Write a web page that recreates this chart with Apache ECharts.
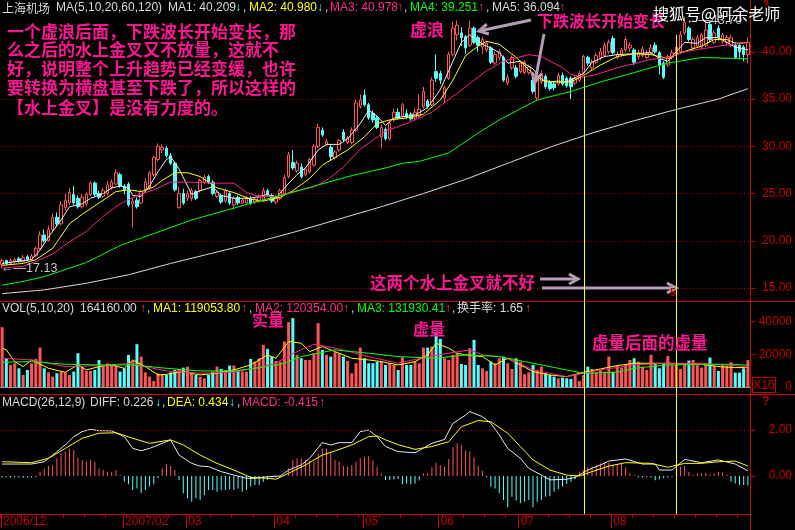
<!DOCTYPE html>
<html><head><meta charset="utf-8">
<script src="https://cdn.jsdelivr.net/npm/echarts@6/dist/echarts.min.js"></script>
<style>html,body{margin:0;padding:0;background:#000;}#c{width:795px;height:530px;}</style>
</head><body><div id="c"></div>
<script>
// ---------- DATA ----------
// [open, close, low, high]
const candles = [
[17.5,17.9,17.13,18.1],[17.9,17.6,17.4,18.0],[17.6,17.9,17.5,18.1],[17.8,18.0,17.6,18.2],[18.1,17.8,17.7,18.3],
[17.8,18.2,17.7,18.5],[18.3,18.0,17.9,18.5],[18.0,18.4,17.9,18.6],[18.4,19.2,18.3,19.4],[19.2,20.6,19.0,21.0],
[20.6,20.0,19.8,21.2],[20.0,21.2,19.9,21.6],[21.2,22.5,20.9,22.9],[22.5,21.8,21.5,23.0],[21.8,23.8,21.6,24.2],
[23.5,24.3,23.2,25.0],[24.0,25.1,23.8,25.6],[24.9,24.0,23.8,25.8],[24.5,23.6,23.4,24.8],[23.6,24.6,23.4,25.0],
[23.9,24.9,23.7,25.1],[24.9,26.1,24.7,26.3],[26.1,24.9,24.7,26.3],[25.0,24.6,24.4,25.3],[24.7,25.3,24.5,25.6],
[25.0,25.9,24.8,26.3],[25.6,26.2,25.4,26.5],[26.0,27.2,25.9,27.6],[27.0,25.8,25.6,27.2],[25.8,25.4,24.9,26.0],
[26.0,23.8,23.6,26.2],[23.9,24.2,21.4,24.6],[24.3,23.6,23.4,24.6],[24.0,25.2,23.9,25.4],[25.4,26.2,25.2,26.6],
[25.6,27.2,25.4,27.4],[27.0,28.8,26.8,29.0],[28.6,30.0,28.4,30.3],[29.6,29.9,29.3,30.2],[29.8,29.0,28.8,30.0],
[29.0,28.2,28.0,29.3],[28.2,25.4,25.2,28.4],[23.5,25.0,23.4,25.7],[25.0,24.0,23.8,25.5],[24.5,25.0,24.2,25.3],
[24.5,25.3,24.2,25.6],[25.2,24.5,24.3,25.4],[25.3,26.4,25.1,26.6],[26.2,26.7,26.0,27.0],[26.8,26.2,26.0,27.0],
[26.2,25.0,24.8,26.4],[24.7,25.1,24.5,25.3],[24.8,24.1,23.9,25.0],[24.2,25.3,24.0,25.5],[25.0,24.0,23.8,25.2],
[23.8,24.5,23.3,24.7],[24.6,24.0,23.8,24.8],[24.0,24.3,23.9,24.5],[24.0,24.5,23.9,24.7],[24.5,24.0,23.8,24.7],
[24.1,24.4,23.9,24.6],[24.2,24.6,24.0,24.9],[24.3,25.3,24.1,25.6],[25.3,24.9,24.7,25.5],[24.8,24.2,24.0,25.0],
[24.1,24.6,23.9,24.8],[24.5,25.3,24.3,25.5],[25.0,26.7,24.9,27.0],[26.8,29.1,26.6,29.4],[28.3,27.7,27.5,29.6],
[27.4,28.2,27.2,28.5],[27.8,26.8,26.6,28.2],[27.0,27.6,26.8,27.8],[27.3,28.6,27.1,28.8],[28.0,30.0,27.8,30.2],
[30.0,32.0,29.8,32.4],[31.7,31.2,31.0,32.0],[30.2,30.5,30.0,30.8],[29.9,28.9,28.5,30.2],[28.8,29.4,28.6,29.6],
[29.6,30.6,29.4,30.8],[31.5,30.7,30.5,31.8],[30.4,30.9,30.2,31.1],[30.4,31.7,30.2,32.0],[31.7,34.6,31.5,34.9],
[34.2,34.9,34.0,35.5],[35.4,34.4,34.2,36.0],[34.4,33.0,32.8,34.6],[33.5,32.8,32.5,33.8],[33.0,32.0,31.8,33.2],
[31.0,32.0,29.8,32.3],[31.8,30.8,30.6,32.0],[30.8,32.4,30.6,32.8],[32.8,33.6,32.6,34.0],[33.6,33.0,32.8,34.0],
[33.2,34.4,33.0,34.6],[33.5,33.1,32.9,33.9],[33.4,32.9,32.7,33.6],[33.0,33.6,32.8,34.0],[33.2,33.9,33.0,35.5],
[34.2,35.8,34.0,36.3],[34.8,34.2,34.0,35.0],[34.4,37.0,34.2,37.3],[37.9,37.2,36.8,39.7],[37.7,37.0,36.6,38.0],
[35.1,36.2,34.6,36.4],[37.2,39.7,37.0,40.0],[39.7,42.5,39.5,43.2],[41.8,42.8,41.2,43.3],[42.0,41.5,40.6,42.6],
[41.6,40.4,39.8,41.8],[40.7,42.5,40.5,43.3],[42.5,41.0,40.8,42.7],[41.5,40.7,40.0,41.7],[40.5,41.3,39.8,41.6],
[40.2,40.9,40.0,41.2],[40.4,38.9,38.7,40.6],[38.8,39.7,38.6,40.0],[39.4,40.0,39.1,40.3],[39.4,37.0,36.8,39.6],
[36.7,37.3,36.5,37.6],[38.3,39.4,38.1,39.6],[38.3,37.4,37.2,38.6],[37.9,38.8,37.7,39.0],[37.8,38.9,37.6,39.1],
[37.8,38.4,37.6,38.6],[37.0,35.8,35.6,37.2],[35.1,37.4,34.9,37.6],[36.8,37.7,36.6,38.0],[37.4,36.3,36.1,37.6],
[36.8,36.1,35.9,37.0],[36.6,36.2,35.9,36.8],[36.6,37.5,36.4,37.8],[37.5,36.6,36.4,37.8],[37.2,36.4,36.2,37.4],
[37.2,36.3,35.0,37.4],[36.7,37.2,36.5,37.4],[37.0,37.7,36.8,38.0],[37.8,39.5,37.6,39.7],[39.4,38.8,38.5,39.6],
[38.3,38.9,38.1,39.2],[38.9,39.6,38.7,39.9],[39.4,40.0,39.1,40.4],[39.6,40.7,39.4,41.0],[40.0,41.0,39.8,41.3],
[41.4,39.9,39.7,41.7],[39.4,39.7,39.2,40.0],[39.7,40.2,39.5,40.4],[40.2,41.3,40.0,41.6],[40.4,40.7,40.0,41.0],
[40.2,38.9,38.6,40.4],[39.5,39.9,39.2,40.2],[39.6,40.3,39.4,40.6],[39.4,39.9,39.2,40.2],[39.9,40.4,39.7,40.8],
[40.7,40.0,39.8,41.0],[39.9,38.6,37.6,40.1],[38.8,37.3,37.1,39.0],[38.6,39.5,38.4,39.7],[39.4,39.9,39.2,40.2],
[39.8,40.5,39.6,40.8],[40.0,41.8,39.8,42.2],[42.0,43.1,41.8,43.7],[42.5,41.3,41.1,42.7],[40.4,41.3,40.2,41.6],
[40.6,41.5,40.4,41.8],[40.5,41.8,40.3,42.0],[40.7,42.3,40.5,43.3],[42.9,41.3,41.0,43.2],[41.0,42.0,40.8,42.3],
[42.5,41.5,41.2,42.8],[41.1,41.8,40.9,42.0],[41.0,41.5,40.6,41.8],[40.7,41.5,40.5,41.8],[40.7,39.4,39.2,41.0],
[40.7,40.0,39.2,40.9],[40.5,39.7,39.0,40.7],[39.7,41.0,38.8,41.5]
];
// moving-average lines, sampled [candle index, value]
const ma5Pts = [[0,17.6],[7,18.0],[9,19.0],[11,20.4],[14,22.2],[16,23.6],[19,23.9],[21,24.5],[24,25.0],[26,25.6],[28,25.8],[30,25.6],[31,24.8],[33,24.7],[35,25.8],[37,27.3],[39,28.6],[40,28.9],[42,27.6],[44,25.8],[45,24.9],[47,25.3],[50,25.7],[52,24.8],[55,24.5],[59,24.5],[63,24.9],[65,24.5],[67,25.6],[70,27.0],[72,27.7],[75,29.6],[77,30.2],[80,30.2],[82,30.8],[85,32.4],[87,33.8],[89,33.2],[91,32.2],[93,33.0],[98,33.3],[101,34.1],[104,36.0],[106,38.0],[109,41.0],[111,41.8],[114,40.8],[116,40.4],[118,39.9],[120,38.8],[123,39.0],[126,38.2],[127,37.6],[129,36.8],[132,36.9],[134,36.8],[138,37.7],[140,38.9],[143,39.5],[146,39.7],[150,39.8],[154,39.9],[156,39.3],[158,39.0],[160,40.0],[162,41.0],[165,40.9],[167,41.5],[170,41.5],[172,41.0],[174,40.5],[177,40.209]];
const ma10Pts = [[0,17.4],[5,17.6],[8,18.0],[12,19.2],[14,20.5],[16,21.8],[19,22.8],[23,24.0],[27,25.2],[30,25.4],[33,25.2],[36,25.7],[38,26.4],[41,27.2],[44,27.2],[47,26.8],[51,25.6],[55,25.1],[59,24.4],[62,24.2],[66,24.6],[69,25.3],[73,26.6],[76,28.0],[79,28.8],[82,29.6],[86,31.0],[89,32.4],[92,32.8],[96,33.0],[100,33.4],[104,34.9],[107,37.0],[110,39.6],[113,40.6],[115,41.1],[118,40.8],[122,39.4],[125,38.1],[128,37.0],[131,36.8],[135,36.8],[138,37.5],[142,38.6],[146,39.5],[150,39.8],[154,39.7],[158,39.3],[161,39.9],[166,40.6],[169,41.3],[172,41.3],[174,40.9],[177,40.98]];
const ma20Pts = [[0,17.1],[5,17.3],[8,17.8],[12,18.6],[16,19.9],[20,21.0],[24,22.6],[28,23.9],[32,24.8],[36,25.4],[40,26.2],[45,26.2],[50,26.1],[55,26.1],[58,25.1],[61,24.7],[65,24.7],[70,25.3],[74,25.7],[77,26.4],[81,27.8],[85,29.7],[91,31.6],[96,32.4],[102,33.6],[110,36.3],[115,38.0],[119,39.0],[125,39.7],[128,39.5],[133,38.3],[135,37.6],[138,37.3],[141,37.6],[146,38.3],[154,39.2],[158,39.4],[162,40.0],[170,40.6],[177,40.978]];
const ma60Pts = [[0,15.3],[5,15.7],[10,16.2],[20,17.7],[28,19.5],[35,20.6],[45,22.2],[53,23.2],[60,24.1],[68,25.0],[75,25.9],[83,26.9],[91,27.7],[95,28.2],[99,28.4],[106,29.3],[113,31.4],[118,32.8],[127,34.9],[135,35.8],[142,36.8],[150,37.8],[158,38.8],[166,39.4],[177,39.251]];
const ma120Pts = [[0,14.4],[10,14.8],[20,15.5],[30,16.4],[40,17.6],[50,18.7],[60,19.8],[70,21.0],[80,22.3],[90,23.6],[100,25.0],[110,26.5],[120,28.2],[130,29.9],[140,31.4],[150,32.7],[160,33.9],[170,35.0],[177,36.094]];
// volume (axis units, x10 shares)
const volumes = [
36490,17530,13460,14470,11420,7340,10400,14470,17120,24050,
11420,8970,6320,8360,9380,8970,7340,9380,20590,12430,
9790,9790,10400,16510,12430,14470,13460,13050,9380,11420,
19570,15900,26090,18550,8970,6320,3670,8360,7340,7340,
8970,10400,11010,11820,12430,8970,7340,6320,5300,7340,
9380,12430,11010,10400,13050,13050,10400,9380,9380,17120,
15490,17530,25690,23240,18550,15900,15490,27720,39550,42000,
19570,17530,16510,16510,20590,38940,22630,19570,18550,21200,
20590,18550,15900,8360,14470,24050,17530,14470,14470,15490,
15900,13460,14470,13460,10400,
18140,13460,13460,15490,14470,24050,24050,24670,33430,29360,
17530,16510,19570,20590,14070,13460,23650,28750,13460,11420,
9790,15490,14470,17530,18550,14470,11010,17530,15490,7750,
8970,13460,10400,12430,8360,7340,6320,5300,5710,5300,
4890,7750,3670,7340,12430,11010,8970,10400,9380,18550,
9380,13050,11820,13460,16510,17530,15490,12430,10400,19570,
14470,11420,14470,18960,13460,13460,11010,14470,16110,16510,
14470,11820,13460,17940,13050,9790,13460,13050,15090,8770,
8770,11420,16416];
const volMa5Pts = [[0,23650],[1,22630],[3,15490],[5,12430],[7,16510],[11,11420],[15,8970],[18,13460],[20,10400],[23,12430],[26,13460],[29,11420],[31,16510],[34,12430],[37,7340],[39,7750],[43,9380],[47,7340],[51,8360],[55,10400],[59,13460],[63,19570],[65,17530],[68,27720],[71,26700],[73,21600],[76,24670],[79,21600],[83,17530],[87,16510],[90,15490],[94,13460],[98,15490],[101,19570],[103,26700],[106,23650],[108,20590],[110,19570],[114,18550],[117,13460],[120,17530],[123,13460],[126,9380],[130,7340],[134,6320],[138,8970],[142,11010],[146,13050],[150,14470],[158,14470],[166,13860],[170,12430],[174,11820],[177,11905]];
const volMa10Pts = [[0,17530],[7,16510],[15,12430],[23,13050],[31,14470],[34,12430],[39,9790],[47,8360],[55,8970],[60,11500],[65,14500],[69,20500],[74,26090],[79,23650],[83,21200],[87,18550],[94,14470],[101,18550],[111,22630],[114,19570],[118,18550],[122,15490],[126,10400],[134,6320],[142,10400],[150,13460],[158,14470],[166,14470],[174,13050],[177,12035]];
const volMa20Pts = [[0,15090],[7,15490],[15,13860],[23,13460],[31,13460],[39,11420],[47,9790],[55,9790],[63,12430],[67,14470],[71,18550],[79,22630],[87,20590],[94,18550],[103,17530],[110,19570],[118,18550],[126,14470],[134,10400],[138,8360],[146,8970],[150,11420],[158,13460],[166,13860],[174,13860],[177,13193]];
// MACD
const macdHist = [
-0.06,-0.05,-0.07,-0.05,-0.06,-0.08,-0.06,-0.05,-0.04,
0.19,0.33,0.43,0.48,0.77,0.99,1.06,1.20,1.13,0.80,0.70,
0.62,0.72,0.62,0.33,0.26,0.19,0.19,0.26,0.04,-0.25,
-0.36,-0.61,-0.54,-0.75,-0.61,-0.46,-0.36,-0.10,0.33,0.52,
0.43,0.26,-0.17,-0.75,-0.97,-1.12,-0.97,-1.04,-0.83,-0.61,
-0.61,-0.68,-0.61,-0.61,-0.58,-0.61,-0.54,-0.68,-0.61,-0.46,
-0.39,-0.39,-0.25,-0.17,-0.06,-0.06,-0.03,0.04,0.33,0.70,
0.77,0.77,0.70,0.67,0.62,0.99,1.20,1.20,1.01,0.70,
0.62,0.43,0.41,0.48,0.62,0.77,0.84,0.87,0.67,0.41,
0.12,-0.17,-0.17,-0.15,-0.13,-0.36,
-0.33,-0.36,-0.33,-0.20,0.12,0.12,0.38,0.58,0.48,0.41,
0.74,1.25,1.42,1.35,1.10,1.06,0.80,0.43,0.23,-0.06,
-0.46,-0.54,-0.75,-1.04,-1.36,-0.90,-1.07,-1.19,-1.12,-1.04,
-1.36,-1.12,-1.04,-0.90,-0.87,-0.68,-0.58,-0.46,-0.35,-0.25,
-0.14,0.19,0.26,0.38,0.41,0.48,0.55,0.62,0.58,0.48,
0.52,0.58,0.38,0.12,0.04,-0.06,-0.06,-0.03,-0.06,-0.19,
-0.14,-0.10,-0.06,-0.03,0.19,0.41,0.43,0.19,0.04,0.12,
0.12,0.14,0.07,0.12,0.19,0.14,0.07,-0.25,-0.33,-0.39,-0.39,-0.415];
const diffPts = [[0,0.52],[7,0.52],[10,0.62],[12,0.91],[15,1.35],[17,1.71],[19,1.93],[21,2.03],[23,1.97],[26,1.96],[29,1.71],[31,1.20],[33,1.10],[35,1.20],[38,1.42],[40,1.57],[42,0.91],[45,0.55],[47,0.43],[49,0.41],[52,0.19],[55,0.04],[58,-0.10],[60,-0.10],[63,-0.03],[66,0.0],[68,0.26],[71,0.48],[73,0.77],[76,1.45],[78,1.35],[80,1.45],[83,1.45],[85,1.93],[87,2.0],[89,1.71],[91,1.28],[94,1.06],[98,1.01],[102,1.42],[105,1.59],[107,2.29],[110,2.65],[111,2.80],[114,2.58],[116,2.29],[118,1.78],[120,1.20],[123,0.77],[125,0.33],[128,0.04],[130,-0.17],[134,-0.14],[136,-0.06],[139,0.26],[142,0.48],[144,0.65],[148,0.74],[152,0.52],[155,0.52],[156,0.26],[159,0.26],[162,0.72],[166,0.58],[170,0.70],[174,0.52],[177,0.226]];
const deaPts = [[0,0.62],[7,0.58],[11,0.77],[15,1.20],[19,1.64],[23,1.86],[27,1.88],[31,1.64],[35,1.42],[40,1.57],[43,1.35],[47,0.91],[51,0.55],[55,0.26],[59,-0.06],[63,-0.10],[65,-0.14],[68,0.12],[72,0.48],[76,0.91],[79,1.09],[83,1.35],[87,1.71],[89,1.74],[91,1.57],[94,1.36],[98,1.16],[102,1.28],[106,1.49],[109,2.14],[113,2.41],[116,2.36],[120,1.86],[123,1.28],[126,0.70],[130,0.26],[134,0.04],[137,0.0],[140,0.19],[144,0.43],[148,0.58],[154,0.55],[158,0.38],[162,0.55],[166,0.55],[170,0.62],[174,0.65],[177,0.434]];
// date axis labels (candle index -> label)
const monthLabels = {0:'2006/12',29:'2007/02',44:'03',65:'04',86:'05',104:'06',123:'07',145:'08'};
const priceTicks = [15,20,25,30,35,40];
const volTicks = [0,20000,40000];
const macdTicks = [0,2];
// annotation anchors
const markerIdx = [138,160];
const markerTop = [37.4,41.8];
const lowMark = [0,17.13];
const highMark = [162,43.7];

// ---------- CHART ----------
const RED='#ff5454', CYAN='#54ffff', AX='#c80000', DOT='#a80000';
const cats = candles.map((_,i)=>String(i));
const chart = echarts.init(document.getElementById('c'));
const lineS = (pts,color,x,y,w)=>({type:'line',xAxisIndex:x,yAxisIndex:y,data:pts,symbol:'none',clip:false,
  lineStyle:{color:color,width:w||1},silent:true,z:3});
const GL=0, GR=45;
const option = {
  backgroundColor:'#000',
  animation:false,
  grid:[
    {left:GL,right:GR,top:14,height:274},
    {left:GL,right:GR,top:305,height:82},
    {left:GL,right:GR,top:394,height:128},
    {left:GL,right:GR,top:514,height:14}
  ],
  xAxis:[
    {gridIndex:0,type:'category',data:cats,boundaryGap:true,axisLine:{show:false,onZero:false},axisTick:{show:false},axisLabel:{show:false},splitLine:{show:false}},
    {gridIndex:1,type:'category',data:cats,boundaryGap:true,axisLine:{show:true,onZero:false,lineStyle:{color:'#9a9a9a'}},axisTick:{show:false},axisLabel:{show:false},splitLine:{show:false}},
    {gridIndex:2,type:'category',data:cats,boundaryGap:true,position:'bottom',offset:-8,
      axisLine:{show:true,onZero:false,lineStyle:{color:AX}},
      axisTick:{show:true,length:4,interval:(i)=>i%5===0,lineStyle:{color:AX}},axisLabel:{show:false},splitLine:{show:false}},
    {gridIndex:3,type:'category',data:cats,boundaryGap:true,position:'bottom',
      axisLine:{show:false,onZero:false},axisTick:{show:false},
      splitLine:{show:true,interval:(i)=>monthLabels[i]!==undefined,lineStyle:{color:AX,width:1}},
      axisLabel:{show:true,inside:true,margin:0,align:'left',color:AX,fontSize:12,fontFamily:'Liberation Sans',
        interval:(i)=>monthLabels[i]!==undefined,formatter:(v,i)=>monthLabels[i]||''}}
  ],
  yAxis:[
    {gridIndex:0,type:'value',position:'right',min:15,max:44,interval:5,
      axisLine:{show:false},axisTick:{show:true,length:5,customValues:priceTicks,lineStyle:{color:AX}},
      axisLabel:{color:AX,fontSize:12,fontFamily:'Liberation Sans',align:'right',margin:42,customValues:priceTicks,formatter:(v)=>v.toFixed(2)},
      splitLine:{show:true,showMaxLine:false,lineStyle:{color:DOT,type:[1,2]}}},
    {gridIndex:1,type:'value',position:'right',min:0,max:50000,interval:20000,
      axisLine:{show:false},axisTick:{show:true,length:5,customValues:[20000,40000],lineStyle:{color:AX}},
      axisLabel:{color:AX,fontSize:12,fontFamily:'Liberation Sans',align:'right',margin:42,customValues:volTicks,formatter:(v)=>String(Math.round(v))},
      splitLine:{show:true,showMinLine:false,showMaxLine:false,lineStyle:{color:DOT,type:[1,2]}}},
    {gridIndex:2,type:'value',position:'right',min:-2,max:3.565,interval:2,
      axisLine:{show:false},axisTick:{show:true,length:5,customValues:macdTicks,lineStyle:{color:AX}},
      axisLabel:{color:AX,fontSize:12,fontFamily:'Liberation Sans',align:'right',margin:42,customValues:macdTicks,formatter:(v)=>v.toFixed(2)},
      splitLine:{show:false}},
    {gridIndex:3,type:'value',show:false,min:0,max:1}
  ],
  series:[
    {type:'candlestick',xAxisIndex:0,yAxisIndex:0,data:candles,barWidth:3,z:2,silent:true,
      itemStyle:{color:'#000',color0:CYAN,borderColor:RED,borderColor0:CYAN,borderWidth:1}},
    lineS(ma5Pts,'#f0f0f0',0,0),
    lineS(ma10Pts,'#ffff00',0,0),
    lineS(ma20Pts,'#ff1e8c',0,0),
    lineS(ma60Pts,'#00ff00',0,0),
    lineS(ma120Pts,'#d8d8d8',0,0),
    {type:'bar',xAxisIndex:1,yAxisIndex:1,data:volumes,barWidth:3,silent:true,
      itemStyle:{color:(p)=>candles[p.dataIndex][1]>=candles[p.dataIndex][0]?RED:CYAN}},
    lineS(volMa5Pts,'#ffff00',1,1),
    lineS(volMa10Pts,'#ff1e8c',1,1),
    lineS(volMa20Pts,'#00ff00',1,1),
    {type:'bar',xAxisIndex:2,yAxisIndex:2,data:macdHist,barWidth:1,silent:true,
      itemStyle:{color:(p)=>p.value>=0?RED:CYAN}},
    Object.assign(lineS(diffPts,'#e8e8e8',2,2),{markLine:{silent:true,symbol:'none',label:{show:false},
      lineStyle:{color:DOT,type:[1,2],width:1},data:[{yAxis:2}]}}),
    lineS(deaPts,'#ffff00',2,2)
  ]
};
chart.setOption(option);

// ---------- overlay texts / annotations ----------
const F = '"Liberation Sans","Noto Sans CJK SC",sans-serif';
const CJK = '"Noto Sans CJK SC",sans-serif';
function T(x,y,s,color,size,fam,weight,align){
  return {type:'text',x:x,y:y,z:100,silent:true,style:{text:s,fill:color,
    font:(weight||'normal')+' '+(size||12)+'px '+(fam||F),
    align:align||'left',textAlign:align||'left',verticalAlign:'middle',textVerticalAlign:'middle'}};
}
function L(x1,y1,x2,y2,c,w){return {type:'line',z:90,silent:true,shape:{x1,y1,x2,y2},style:{stroke:c,lineWidth:w||1}};}
function arrow(x1,y1,x2,y2,c){
  const a=Math.atan2(y2-y1,x2-x1), Ln=9, W=5;
  const bx=x2-Ln*Math.cos(a), by=y2-Ln*Math.sin(a), px=-Math.sin(a)*W, py=Math.cos(a)*W;
  return [L(x1,y1,x2,y2,c,3),
    {type:'polyline',z:90,silent:true,shape:{points:[[bx+px,by+py],[x2,y2],[bx-px,by-py]]},style:{stroke:c,lineWidth:3,fill:null}}];
}
const g = [];
// frame lines
g.push(L(750.5,0,750.5,530,AX), L(0,301.5,795,301.5,AX), L(0,394.5,795,394.5,AX));
// titles
const LG='#d8d8d8', YL='#ffff00', MG='#ff2a90', GN='#00ff00', UP='#ff4040', DN='#40ffff';
g.push(T(2,8,'上海机场',LG,12,CJK), T(56,8,'MA(5,10,20,60,120)',LG), T(168,8,'MA1: 40.209',LG), T(235,8,'↓',DN),
  T(243,8,',',LG), T(249,8,'MA2: 40.980',YL), T(317,8,'↓',DN), T(325,8,',',LG), T(330,8,'MA3: 40.978',MG),
  T(397,8,'↑',UP), T(404,8,',',LG), T(410,8,'MA4: 39.251',GN), T(478,8,'↑',UP), T(486,8,',',LG),
  T(492,8,'MA5: 36.094',LG), T(559,8,'↑',UP));
g.push(T(2,309,'VOL(5,10,20)',LG), T(80,309,'164160.00',LG), T(140,309,'↑',UP), T(147,309,',',LG),
  T(153,309,'MA1: 119053.80',YL), T(241,309,'↑',UP), T(249,309,',',LG), T(255,309,'MA2: 120354.00',MG),
  T(343,309,'↑',UP), T(351,309,',',LG), T(357,309,'MA3: 131930.41',GN), T(445,309,'↑',UP), T(452,309,',',LG),
  T(457,309,'换手率: 1.65',LG,12,F), T(525,309,'↑',UP));
g.push(T(2,403,'MACD(26,12,9)',LG), T(90,403,'DIFF: 0.226',LG), T(155,403,'↓',DN), T(162,403,',',LG),
  T(167,403,'DEA: 0.434',YL), T(229,403,'↓',DN), T(237,403,',',LG), T(242,403,'MACD: -0.415',MG), T(319,403,'↑',UP));
// right-side bits
g.push({type:'rect',z:95,silent:true,shape:{x:752.5,y:377.5,width:23,height:15},style:{stroke:AX,fill:null,lineWidth:1}},
  T(764,385.5,'X10',AX,12,F,'normal','center'), T(766,402,'?',AX,12,F,'bold','center'), T(766,5,'?',AX,10,F,'bold','center'));
// annotations (pink)
const PK='#ff1493';
['一个虚浪后面，下跌波长开始变长，那','么之后的水上金叉又不放量，这就不','好，说明整个上升趋势已经变缓，也许','要转换为横盘甚至下跌了，所以这样的','【水上金叉】是没有力度的。']
  .forEach((s,k)=>g.push(T(7,[32,50,69,88,108][k],s,PK,17,CJK,'bold')));
g.push(T(410,30,'虚浪',PK,17,CJK,'bold'), T(537,21,'下跌波长开始变长',PK,16,CJK,'bold'),
  T(370,283,'这两个水上金叉就不好',PK,16.5,CJK,'bold'), T(252,320,'实量',PK,16,CJK,'bold'),
  T(413,329,'虚量',PK,16,CJK,'bold'), T(592,343,'虚量后面的虚量',PK,16.5,CJK,'bold'));
const AC='#b49cb4';
g.push(...arrow(531,20,479,31,AC), ...arrow(544,34,535,82,AC), ...arrow(540,279,578,279,AC), ...arrow(542,288,676,288,AC));
g.push(T(673,293,'5',AX,10,F,'bold','center'));
// data-anchored: vertical marker lines and min/max labels
markerIdx.forEach((idx,k)=>{
  const p = chart.convertToPixel({gridIndex:0},[idx,markerTop[k]]);
  const b = chart.convertToPixel({gridIndex:2},[idx,-2]);
  const x = Math.round(p[0])+0.5;
  g.push(L(x,p[1],x,b[1]-8,'#ffff00',1));
});
const pl = chart.convertToPixel({gridIndex:0},lowMark);
g.push(T(pl[0]-1,pl[1]+1,'←—17.13','#c8c8c8',12.5));
const ph = chart.convertToPixel({gridIndex:0},highMark);
g.push(T(ph[0]+1,ph[1]+4,'←—43.70','#c8c8c8',12.5));
// watermark
g.push(T(653,14,'搜狐号@阿余老师','#ffffff',16,CJK,'normal'));
chart.setOption({graphic:g});
</script></body></html>
